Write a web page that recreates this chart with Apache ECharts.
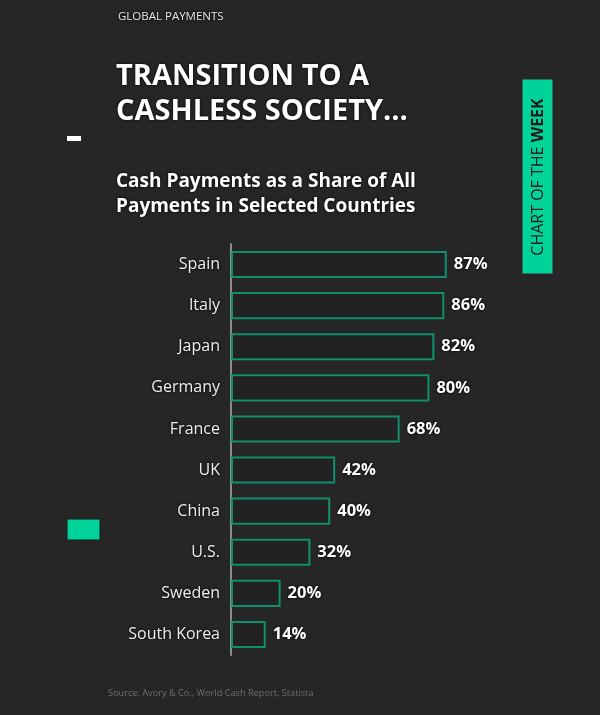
<!DOCTYPE html>
<html>
<head>
<meta charset="utf-8">
<script src="https://cdn.jsdelivr.net/npm/echarts@6/dist/echarts.min.js"></script>
<style>
  html, body { margin: 0; padding: 0; background: #262626; }
  #main { width: 600px; height: 715px; }
</style>
</head>
<body>
<div id="main"></div>
<script>
// data
var countries = ['Spain', 'Italy', 'Japan', 'Germany', 'France', 'UK', 'China', 'U.S.', 'Sweden', 'South Korea'];
var cashShare = [87, 86, 82, 80, 68, 42, 40, 32, 20, 14];

var font = '"Open Sans", "Noto Sans", sans-serif';
var shadow = { textShadowColor: '#000', textShadowBlur: 3 };

var myChart = echarts.init(document.getElementById('main'));

var option = {
  backgroundColor: '#262626',
  grid: { left: 231, top: 244, width: 248, height: 411 },
  xAxis: {
    type: 'value', min: 0, max: 100,
    show: false
  },
  yAxis: {
    type: 'category',
    data: countries,
    inverse: true,
    axisLine: { show: true, lineStyle: { color: '#8c8c8c', width: 2 } },
    axisTick: { show: false },
    axisLabel: {
      color: '#eeeeee', fontSize: 16, fontFamily: font, margin: 11,
      textShadowColor: '#000', textShadowBlur: 3
    }
  },
  series: [{
    type: 'bar',
    data: cashShare,
    barCategoryGap: '34%',
    itemStyle: { color: '#222222', borderColor: '#0f8f6c', borderWidth: 2 },
    label: {
      show: true, position: 'right', distance: 7,
      formatter: '{c}%',
      color: '#ffffff', fontSize: 16.5, fontWeight: 'bold', fontFamily: font,
      textShadowColor: '#000', textShadowBlur: 3
    },
    silent: true
  }],
  graphic: [
    { type: 'text', left: 118, top: 11,
      style: Object.assign({ text: 'GLOBAL PAYMENTS', fill: '#e6e6e6', font: '11.5px ' + font }, shadow) },
    { type: 'text', left: 116, top: 59,
      style: Object.assign({ text: 'TRANSITION TO A\nCASHLESS SOCIETY…', fill: '#ffffff',
        font: 'bold 29px ' + font, lineHeight: 35 }, shadow) },
    { type: 'rect', shape: { x: 67, y: 136, width: 14, height: 5 }, style: { fill: '#ffffff' } },
    { type: 'text', left: 116, top: 169,
      style: Object.assign({ text: 'Cash Payments as a Share of All\nPayments in Selected Countries', fill: '#ffffff',
        font: 'bold 19px ' + font, lineHeight: 25 }, shadow) },
    { type: 'rect', shape: { x: 522, y: 79, width: 31, height: 195 },
      style: { fill: '#00d39a', stroke: '#3a1a2a', lineWidth: 1 } },
    { type: 'text', x: 538, y: 177, rotation: Math.PI / 2,
      style: { text: '{r|CHART OF THE }{b|WEEK}', align: 'center', verticalAlign: 'middle',
        rich: {
          r: { fill: '#1a1a1a', font: '16px ' + font },
          b: { fill: '#1a1a1a', font: 'bold 16px ' + font }
        } } },
    { type: 'rect', shape: { x: 67, y: 519, width: 33, height: 21 },
      style: { fill: '#00d39a', stroke: '#1a1a1a', lineWidth: 1 } },
    { type: 'text', left: 108, top: 689,
      style: { text: 'Source: Avory & Co., World Cash Report, Statista', fill: '#6e6e6e', font: '9.2px ' + font } }
  ]
};

myChart.setOption(option);
</script>
</body>
</html>
